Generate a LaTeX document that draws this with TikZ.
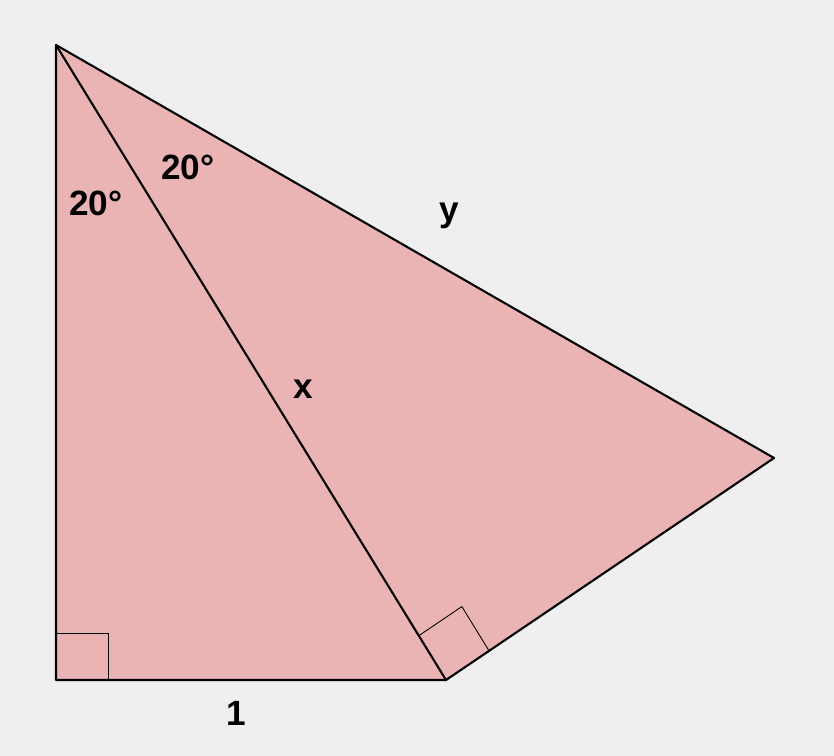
\documentclass[tikz,border=0pt]{standalone}
\usepackage{fontspec}
\setmainfont{Liberation Sans}
\usetikzlibrary{calc}
\definecolor{bgray}{HTML}{EFEFEF}
\definecolor{tripink}{HTML}{EBB4B4}
\tikzset{lbl/.style={font=\fontsize{20}{24}\selectfont\bfseries, inner sep=0pt}}
\begin{document}
\begin{tikzpicture}[x=0.02cm,y=-0.02cm]
\fill[bgray] (0,0) rectangle (834,756);
\useasboundingbox (0,0) rectangle (834,756);
\coordinate (A) at (56,45);
\coordinate (B) at (56,680);
\coordinate (C) at (446,680);
\coordinate (D) at (774,458);
\fill[tripink] (A) -- (B) -- (C) -- (D) -- cycle;
\draw[line width=0.5pt] (56,633) -- (108,633) -- (108,680);
\coordinate (ca) at ($(C)!1.04cm!(A)$);
\coordinate (cd) at ($(C)!1.04cm!(D)$);
\draw[line width=0.5pt] (ca) -- ($(ca)+(cd)-(C)$) -- (cd);
\draw[line width=1.2pt, line join=round] (A) -- (B) -- (C) -- (D) -- cycle;
\draw[line width=1.2pt] (A) -- (C);
\node[lbl] (angL) at (96,203) {20°};
\node[lbl] (angR) at (188,167) {20°};
\node[lbl] (y) at (449,216) {y};
\node[lbl] (x) at (303,389) {x};
\node[lbl] (one) at (236,713) {1};
\end{tikzpicture}
\end{document}
